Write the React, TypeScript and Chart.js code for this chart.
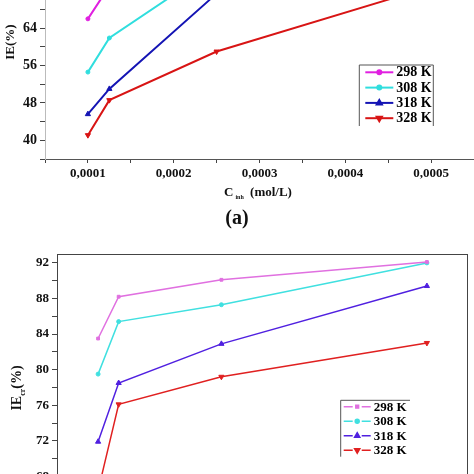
import React, { useEffect, useRef } from 'react';
import { Chart, registerables } from 'chart.js';
import { drawPoint } from 'chart.js/helpers';

Chart.register(...registerables);

// inhibitor concentration (mol/L)
const concentrations = [0.0001, 0.000125, 0.00025, 0.0005];
const temperatures = ['298 K', '308 K', '318 K', '328 K'];

// panel (a): IE(%)
const ieA298 = [66.0, 73.0, 80.5, 88.0];
const ieA308 = [54.6, 61.9, 77.3, 84.0];
const ieA318 = [45.6, 51.0, 71.4, 80.0];
const ieA328 = [41.1, 48.6, 59.0, 72.9];

// panel (b): IE_cr(%)
const ieB298 = [83.5, 88.2, 90.1, 92.1];
const ieB308 = [79.5, 85.4, 87.3, 92.0];
const ieB318 = [71.9, 78.5, 82.9, 89.4];
const ieB328 = [66.4, 76.1, 79.2, 83.0];

const colorsA = ['#e020e0', '#30dede', '#1414b4', '#d81414'];
const colorsB = ['#e070e0', '#40e0e0', '#5020e0', '#e02020'];
const stylesA = ['circle', 'circle', 'triangle', 'triangle'];
const stylesB = ['rect', 'circle', 'triangle', 'triangle'];
const rotations = [0, 0, 0, 180];

const FONT = '"Liberation Serif", "Times New Roman", serif';

const fmtConc = (v: number) =>
  Math.round(v / 0.00005) % 2 === 0 ? v.toFixed(4).replace('.', ',') : '';

// draws the small boxed legend inside the plot (box is clipped like the source)
const makeLegend = (cfg: any) => ({
  id: 'insetLegend',
  afterDatasetsDraw(chart: any) {
    const { ctx, chartArea } = chart;
    const x0 = chartArea.left + cfg.left;
    const y0 = chartArea.top + cfg.top;
    ctx.save();
    ctx.strokeStyle = '#555';
    ctx.lineWidth = 1;
    ctx.beginPath();
    ctx.moveTo(x0, y0 + cfg.height);
    ctx.lineTo(x0, y0);
    ctx.lineTo(x0 + cfg.width, y0);
    if (cfg.rightSide) ctx.lineTo(x0 + cfg.width, y0 + cfg.height);
    ctx.stroke();
    chart.data.datasets.forEach((ds: any, i: number) => {
      const y = y0 + cfg.firstRow + i * cfg.rowStep;
      const lx1 = x0 + cfg.lineFrom;
      const lx2 = x0 + cfg.lineTo;
      const mid = (lx1 + lx2) / 2;
      ctx.strokeStyle = ds.borderColor;
      ctx.fillStyle = ds.borderColor;
      ctx.lineWidth = ds.borderWidth;
      ctx.beginPath();
      if (cfg.gap) {
        ctx.moveTo(lx1, y);
        ctx.lineTo(mid - cfg.gap, y);
        ctx.moveTo(mid + cfg.gap, y);
        ctx.lineTo(lx2, y);
      } else {
        ctx.moveTo(lx1, y);
        ctx.lineTo(lx2, y);
      }
      ctx.stroke();
      drawPoint(
        ctx,
        { pointStyle: ds.pointStyle, radius: ds.pointRadius, rotation: ds.pointRotation, borderWidth: 1 },
        mid,
        y
      );
      ctx.fillStyle = '#000';
      ctx.font = `bold ${cfg.fontSize}px ${FONT}`;
      ctx.textBaseline = 'middle';
      ctx.textAlign = 'left';
      ctx.fillText(ds.label, x0 + cfg.textX, y + 0.5);
    });
    ctx.restore();
  },
});

const framePlugin = {
  id: 'frame',
  beforeDatasetsDraw(chart: any) {
    const { ctx, chartArea } = chart;
    ctx.save();
    ctx.strokeStyle = '#444';
    ctx.lineWidth = 1;
    ctx.strokeRect(
      chartArea.left + 0.5,
      chartArea.top + 0.5,
      chartArea.right - chartArea.left - 1,
      chartArea.bottom - chartArea.top - 1
    );
    ctx.restore();
  },
};

const buildDatasets = (series: number[][], colors: string[], styles: string[], width: number) =>
  series.map((vals, i) => ({
    label: temperatures[i],
    data: concentrations.map((x, j) => ({ x, y: vals[j] })),
    borderColor: colors[i],
    backgroundColor: colors[i],
    borderWidth: width,
    pointStyle: styles[i],
    pointRotation: rotations[i],
    pointRadius: i < 2 ? 2 : 3,
    pointBorderWidth: 1,
    tension: 0,
  }));

interface PanelProps {
  series: number[][];
  colors: string[];
  styles: string[];
  lineWidth: number;
  yMin: number;
  yMax: number;
  yStep: number;
  yAxisWidth: number;
  xAxisHeight: number;
  yBorder: string;
  xFont: number;
  yFont: number;
  legend: any;
  frame: boolean;
  style: React.CSSProperties;
}

const Panel: React.FC<PanelProps> = (p) => {
  const canvasRef = useRef<HTMLCanvasElement | null>(null);

  useEffect(() => {
    if (!canvasRef.current) return;
    const plugins: any[] = [makeLegend(p.legend)];
    if (p.frame) plugins.push(framePlugin);

    const chart = new Chart(canvasRef.current, {
      type: 'line',
      data: { datasets: buildDatasets(p.series, p.colors, p.styles, p.lineWidth) as any },
      options: {
        animation: false,
        responsive: true,
        maintainAspectRatio: false,
        layout: { padding: 0, autoPadding: false },
        plugins: { legend: { display: false }, tooltip: { enabled: false } },
        scales: {
          x: {
            type: 'linear',
            min: 0.00005,
            max: 0.00055,
            grid: { drawOnChartArea: false, drawTicks: true, tickLength: 4, tickColor: '#444' },
            border: { color: '#555', width: 1 },
            ticks: {
              stepSize: 0.00005,
              includeBounds: false,
              autoSkip: false,
              maxRotation: 0,
              padding: 3,
              color: '#111',
              font: { family: FONT, size: p.xFont, weight: 'bold' },
              callback: (v: any) => fmtConc(Number(v)),
            },
            afterFit: (s: any) => {
              s.height = p.xAxisHeight;
              s.paddingLeft = 0;
              s.paddingRight = 0;
            },
          },
          y: {
            min: p.yMin,
            max: p.yMax,
            grid: { drawOnChartArea: false, drawTicks: true, tickLength: 5, tickColor: '#444' },
            border: { color: p.yBorder, width: 1 },
            ticks: {
              stepSize: p.yStep,
              includeBounds: false,
              autoSkip: false,
              padding: 3,
              color: '#111',
              font: { family: FONT, size: p.yFont, weight: 'bold' },
              callback: (v: any) => (Number(v) % (p.yStep * 2) === 0 ? String(v) : ''),
            },
            afterFit: (s: any) => {
              s.width = p.yAxisWidth;
              s.paddingTop = 0;
              s.paddingBottom = 0;
            },
          },
        },
      },
      plugins,
    });

    return () => {
      chart.destroy();
    };
  }, [p]);

  return (
    <div style={{ position: 'absolute', ...p.style }}>
      <canvas ref={canvasRef} />
    </div>
  );
};

const titleBase: React.CSSProperties = {
  position: 'absolute',
  fontFamily: FONT,
  fontWeight: 'bold',
  color: '#111',
  whiteSpace: 'nowrap',
  lineHeight: 1,
};

const panelA = {
  series: [ieA298, ieA308, ieA318, ieA328],
  colors: colorsA,
  styles: stylesA,
  lineWidth: 2,
  yMin: 36,
  yMax: 94,
  yStep: 4,
  yAxisWidth: 45,
  xAxisHeight: 30,
  yBorder: '#bbb',
  xFont: 13,
  yFont: 14,
  frame: false,
  legend: {
    left: 314.3, top: 177, width: 74, height: 61, rightSide: true,
    firstRow: 7.3, rowStep: 15.3, lineFrom: 6, lineTo: 34, textX: 37, gap: 0, fontSize: 14,
  },
  style: { left: 0, top: -112, width: 474, height: 301 },
};

const panelB = {
  series: [ieB298, ieB308, ieB318, ieB328],
  colors: colorsB,
  styles: stylesB,
  lineWidth: 1.5,
  yMin: 64,
  yMax: 93,
  yStep: 2,
  yAxisWidth: 57,
  xAxisHeight: 40,
  yBorder: '#444',
  xFont: 13,
  yFont: 13,
  frame: true,
  legend: {
    left: 283.7, top: 146.3, width: 69.3, height: 56.4, rightSide: false,
    firstRow: 6.4, rowStep: 14.5, lineFrom: 3, lineTo: 30, textX: 33, gap: 4.5, fontSize: 13,
  },
  style: { left: 0, top: 254, width: 468, height: 298 },
};

const App: React.FC = () => (
  <div
    style={{
      position: 'fixed',
      left: 0,
      top: 0,
      width: 474,
      height: 474,
      overflow: 'hidden',
      background: '#fff',
    }}
  >
    <Panel {...panelA} />
    <Panel {...panelB} />

    <div style={{ ...titleBase, fontSize: 13, left: 9, top: 42, transform: 'translate(-50%, -50%) rotate(-90deg)' }}>
      IE(%)
    </div>
    <div style={{ ...titleBase, fontSize: 13, left: 258, top: 191, transform: 'translate(-50%, -50%)' }}>
      C<span style={{ fontSize: 6, position: 'relative', top: 3, margin: '0 3px 0 2px' }}>inh</span> (mol/L)
    </div>
    <div style={{ ...titleBase, fontSize: 20, left: 237, top: 217, transform: 'translate(-50%, -50%)' }}>(a)</div>
    <div style={{ ...titleBase, fontSize: 14, left: 17, top: 388, transform: 'translate(-50%, -50%) rotate(-90deg)' }}>
      IE<span style={{ fontSize: 8, position: 'relative', top: 4 }}>cr</span>(%)
    </div>
  </div>
);

export default App;
